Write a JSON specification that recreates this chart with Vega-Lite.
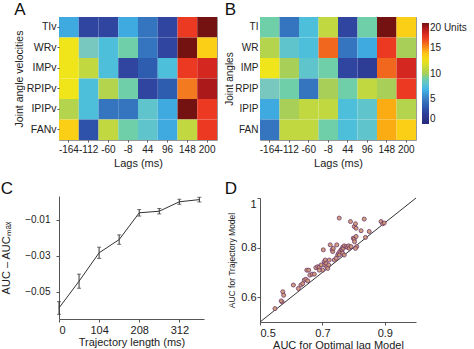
{
"$schema": "https://vega.github.io/schema/vega-lite/v6.json",
"padding": {"left": 0, "top": 0, "right": 0, "bottom": 0},
"config": {
  "font": "Liberation Sans",
  "view": {"stroke": null},
  "axis": {"labelFont": "Liberation Sans", "titleFont": "Liberation Sans", "labelFontSize": 11, "titleFontSize": 11, "titleFontWeight": "normal", "labelColor": "#222", "titleColor": "#222", "domainColor": "#555", "tickColor": "#555", "grid": false, "tickSize": 3, "labelPadding": 2},
  "title": {"fontSize": 17, "fontWeight": "normal", "anchor": "start", "frame": "bounds", "color": "#111", "offset": -2, "font": "Liberation Sans"},
  "legend": {"labelFont": "Liberation Sans"}
},
"datasets": {
  "hA": [
    {"j":"TIv","l":-164,"v":6.5},{"j":"TIv","l":-112,"v":2.5},{"j":"TIv","l":-60,"v":2.5},{"j":"TIv","l":-8,"v":6.5},{"j":"TIv","l":44,"v":4.5},{"j":"TIv","l":96,"v":2.5},{"j":"TIv","l":148,"v":17},{"j":"TIv","l":200,"v":20},
    {"j":"WRv","l":-164,"v":12.5},{"j":"WRv","l":-112,"v":8.5},{"j":"WRv","l":-60,"v":7.5},{"j":"WRv","l":-8,"v":9},{"j":"WRv","l":44,"v":4.5},{"j":"WRv","l":96,"v":2.5},{"j":"WRv","l":148,"v":20},{"j":"WRv","l":200,"v":13.5},
    {"j":"IMPv","l":-164,"v":12.5},{"j":"IMPv","l":-112,"v":11},{"j":"IMPv","l":-60,"v":7.5},{"j":"IMPv","l":-8,"v":2.5},{"j":"IMPv","l":44,"v":3.5},{"j":"IMPv","l":96,"v":7.5},{"j":"IMPv","l":148,"v":17},{"j":"IMPv","l":200,"v":18},
    {"j":"RPIPv","l":-164,"v":12.5},{"j":"RPIPv","l":-112,"v":7.5},{"j":"RPIPv","l":-60,"v":10.5},{"j":"RPIPv","l":-8,"v":9},{"j":"RPIPv","l":44,"v":2.5},{"j":"RPIPv","l":96,"v":3.5},{"j":"RPIPv","l":148,"v":15.5},{"j":"RPIPv","l":200,"v":19},
    {"j":"IPIPv","l":-164,"v":10.5},{"j":"IPIPv","l":-112,"v":7.5},{"j":"IPIPv","l":-60,"v":4.5},{"j":"IPIPv","l":-8,"v":4.5},{"j":"IPIPv","l":44,"v":8},{"j":"IPIPv","l":96,"v":6.5},{"j":"IPIPv","l":148,"v":20},{"j":"IPIPv","l":200,"v":17},
    {"j":"FANv","l":-164,"v":13.5},{"j":"FANv","l":-112,"v":3},{"j":"FANv","l":-60,"v":11},{"j":"FANv","l":-8,"v":9},{"j":"FANv","l":44,"v":8},{"j":"FANv","l":96,"v":6.5},{"j":"FANv","l":148,"v":11},{"j":"FANv","l":200,"v":17}
  ],
  "hB": [
    {"j":"TI","l":-164,"v":9},{"j":"TI","l":-112,"v":4.5},{"j":"TI","l":-60,"v":7.5},{"j":"TI","l":-8,"v":11},{"j":"TI","l":44,"v":2.5},{"j":"TI","l":96,"v":9},{"j":"TI","l":148,"v":20},{"j":"TI","l":200,"v":13.5},
    {"j":"WR","l":-164,"v":10.5},{"j":"WR","l":-112,"v":8},{"j":"WR","l":-60,"v":7.5},{"j":"WR","l":-8,"v":16},{"j":"WR","l":44,"v":4.5},{"j":"WR","l":96,"v":6.5},{"j":"WR","l":148,"v":17},{"j":"WR","l":200,"v":10},
    {"j":"IMP","l":-164,"v":12.5},{"j":"IMP","l":-112,"v":10},{"j":"IMP","l":-60,"v":8},{"j":"IMP","l":-8,"v":9},{"j":"IMP","l":44,"v":2.5},{"j":"IMP","l":96,"v":1.8},{"j":"IMP","l":148,"v":16},{"j":"IMP","l":200,"v":18},
    {"j":"RPIP","l":-164,"v":8.5},{"j":"RPIP","l":-112,"v":9},{"j":"RPIP","l":-60,"v":4.5},{"j":"RPIP","l":-8,"v":10},{"j":"RPIP","l":44,"v":9},{"j":"RPIP","l":96,"v":11},{"j":"RPIP","l":148,"v":10},{"j":"RPIP","l":200,"v":17},
    {"j":"IPIP","l":-164,"v":6.5},{"j":"IPIP","l":-112,"v":10},{"j":"IPIP","l":-60,"v":11},{"j":"IPIP","l":-8,"v":11},{"j":"IPIP","l":44,"v":7.5},{"j":"IPIP","l":96,"v":8},{"j":"IPIP","l":148,"v":14.5},{"j":"IPIP","l":200,"v":10.5},
    {"j":"FAN","l":-164,"v":4.5},{"j":"FAN","l":-112,"v":11},{"j":"FAN","l":-60,"v":11},{"j":"FAN","l":-8,"v":9},{"j":"FAN","l":44,"v":7.5},{"j":"FAN","l":96,"v":8},{"j":"FAN","l":148,"v":14.5},{"j":"FAN","l":200,"v":13.5}
  ],
  "traj": [
    {"len":0,"d":-0.0589,"lo":-0.0624,"hi":-0.0554},
    {"len":52,"d":-0.0441,"lo":-0.048,"hi":-0.0402},
    {"len":104,"d":-0.0284,"lo":-0.0315,"hi":-0.0253},
    {"len":156,"d":-0.0211,"lo":-0.0237,"hi":-0.0185},
    {"len":208,"d":-0.0063,"lo":-0.0081,"hi":-0.0045},
    {"len":260,"d":-0.0054,"lo":-0.0069,"hi":-0.0039},
    {"len":312,"d":-0.0002,"lo":-0.0016,"hi":0.0012},
    {"len":364,"d":0.001,"lo":-0.0003,"hi":0.0023}
  ],
  "auc": [
    {"opt":0.548,"trj":0.554},{"opt":0.571,"trj":0.581},{"opt":0.568,"trj":0.585},{"opt":0.573,"trj":0.622},{"opt":0.576,"trj":0.608},
    {"opt":0.607,"trj":0.649},{"opt":0.623,"trj":0.635},{"opt":0.631,"trj":0.649},{"opt":0.637,"trj":0.655},{"opt":0.642,"trj":0.669},
    {"opt":0.647,"trj":0.672},{"opt":0.650,"trj":0.709},{"opt":0.656,"trj":0.709},{"opt":0.653,"trj":0.666},{"opt":0.660,"trj":0.689},
    {"opt":0.667,"trj":0.693},{"opt":0.674,"trj":0.693},{"opt":0.679,"trj":0.719},{"opt":0.685,"trj":0.723},{"opt":0.690,"trj":0.720},
    {"opt":0.703,"trj":0.791},{"opt":0.706,"trj":0.743},{"opt":0.706,"trj":0.730},{"opt":0.709,"trj":0.750},{"opt":0.712,"trj":0.736},
    {"opt":0.714,"trj":0.723},{"opt":0.717,"trj":0.716},{"opt":0.720,"trj":0.730},{"opt":0.722,"trj":0.750},{"opt":0.725,"trj":0.811},
    {"opt":0.731,"trj":0.791},{"opt":0.733,"trj":0.784},{"opt":0.735,"trj":0.797},{"opt":0.738,"trj":0.750},{"opt":0.744,"trj":0.757},
    {"opt":0.746,"trj":0.811},{"opt":0.749,"trj":0.770},{"opt":0.752,"trj":0.777},{"opt":0.756,"trj":0.784},{"opt":0.760,"trj":0.791},
    {"opt":0.763,"trj":0.793},{"opt":0.765,"trj":0.801},{"opt":0.767,"trj":0.797},{"opt":0.770,"trj":0.807},{"opt":0.776,"trj":0.804},
    {"opt":0.781,"trj":0.801},{"opt":0.784,"trj":0.807},{"opt":0.754,"trj":0.919},{"opt":0.765,"trj":0.777},{"opt":0.786,"trj":0.797},
    {"opt":0.790,"trj":0.905},{"opt":0.799,"trj":0.838},{"opt":0.802,"trj":0.834},{"opt":0.803,"trj":0.824},{"opt":0.802,"trj":0.885},
    {"opt":0.806,"trj":0.896},{"opt":0.808,"trj":0.878},{"opt":0.810,"trj":0.804},{"opt":0.808,"trj":0.845},{"opt":0.824,"trj":0.868},
    {"opt":0.834,"trj":0.915},{"opt":0.838,"trj":0.841},{"opt":0.850,"trj":0.865},{"opt":0.888,"trj":0.905},{"opt":0.893,"trj":0.896},
    {"opt":0.898,"trj":0.899},{"opt":0.806,"trj":0.797},{"opt":0.792,"trj":0.804},{"opt":0.770,"trj":0.770},{"opt":0.701,"trj":0.709},
    {"opt":0.690,"trj":0.709},{"opt":0.696,"trj":0.730},{"opt":0.754,"trj":0.770}
  ]
},
"resolve": {"scale": {"color": "independent"}},
"columns": 2,
"align": "none",
"spacing": {"row": 11, "column": 6},
"concat": [
  {
    "title": {"text": "A"},
    "width": 158, "height": 123,
    "view": {"stroke": "#999"},
    "data": {"name": "hA"},
    "mark": {"type": "rect"},
    "encoding": {
      "x": {"field": "l", "type": "ordinal", "axis": {"title": "Lags (ms)", "labelAngle": 0, "labelFontSize": 10, "titleFontSize": 11, "domain": false, "tickSize": 2, "labelPadding": 2, "titlePadding": 3}},
      "y": {"field": "j", "type": "ordinal", "sort": ["TIv","WRv","IMPv","RPIPv","IPIPv","FANv"], "axis": {"title": "Joint angle velocities", "domain": false, "labelFontSize": 10.5, "titleFontSize": 10.5, "tickSize": 2, "labelPadding": 1, "titlePadding": 2}},
      "color": {"field": "v", "type": "quantitative", "legend": null,
        "scale": {"domain": [0, 2.5, 5, 7, 8.5, 10, 11.5, 12.5, 14, 15.5, 17, 18.5, 20], "range": ["#262a7a","#2f45a0","#3b80c4","#45b8e8","#78c8c0","#a8cf58","#d0dc30","#f0e41a","#fdc418","#f47a20","#ec3a22","#c81c1e","#741212"]}}
    }
  },
  {
    "title": {"text": "B"},
    "width": 156, "height": 123,
    "view": {"stroke": "#999"},
    "data": {"name": "hB"},
    "mark": {"type": "rect"},
    "encoding": {
      "x": {"field": "l", "type": "ordinal", "axis": {"title": "Lags (ms)", "labelAngle": 0, "labelFontSize": 10, "titleFontSize": 11, "domain": false, "tickSize": 2, "labelPadding": 2, "titlePadding": 3}},
      "y": {"field": "j", "type": "ordinal", "sort": ["TI","WR","IMP","RPIP","IPIP","FAN"], "axis": {"title": "Joint angles", "domain": false, "labelFontSize": 10, "titleFontSize": 10, "tickSize": 0, "labelPadding": 2, "titlePadding": 0}},
      "color": {"field": "v", "type": "quantitative",
        "scale": {"domain": [0, 2.5, 5, 7, 8.5, 10, 11.5, 12.5, 14, 15.5, 17, 18.5, 20], "range": ["#262a7a","#2f45a0","#3b80c4","#45b8e8","#78c8c0","#a8cf58","#d0dc30","#f0e41a","#fdc418","#f47a20","#ec3a22","#c81c1e","#741212"]},
        "legend": {"title": " ", "titleFontSize": 5, "titlePadding": 1, "offset": 6, "gradientLength": 101, "gradientThickness": 7, "values": [0, 5, 10, 15, 20], "labelFontSize": 10, "labelColor": "#222", "labelExpr": "datum.value == 20 ? '20 Units' : datum.label", "labelOffset": 1}}
    }
  },
  {
    "title": {"text": "C"},
    "width": 145, "height": 123,
    "data": {"name": "traj"},
    "encoding": {
      "x": {"field": "len", "type": "quantitative", "scale": {"domain": [0, 376], "nice": false}, "axis": {"values": [0, 104, 208, 312], "title": "Trajectory length (ms)", "titlePadding": 1}}
    },
    "layer": [
      {"mark": {"type": "rule", "color": "#333", "strokeWidth": 1},
       "encoding": {"y": {"field": "lo", "type": "quantitative", "title": "AUC – AUCₘₐₓ", "scale": {"domain": [-0.065, 0.003], "nice": false, "zero": false}, "axis": {"values": [-0.05, -0.03, -0.01], "format": ".2f", "labelFontSize": 10, "labelPadding": 6, "titlePadding": 13}}, "y2": {"field": "hi"}}},
      {"mark": {"type": "tick", "color": "#333", "size": 4, "thickness": 1, "orient": "horizontal"},
       "encoding": {"y": {"field": "lo", "type": "quantitative", "title": "AUC – AUCₘₐₓ"}}},
      {"mark": {"type": "tick", "color": "#333", "size": 4, "thickness": 1, "orient": "horizontal"},
       "encoding": {"y": {"field": "hi", "type": "quantitative", "title": "AUC – AUCₘₐₓ"}}},
      {"mark": {"type": "line", "color": "#333", "strokeWidth": 1},
       "encoding": {"y": {"field": "d", "type": "quantitative", "title": "AUC – AUCₘₐₓ"}}}
    ]
  },
  {
    "title": {"text": "D", "dx": -3},
    "width": 156, "height": 124,
    "layer": [
      {"data": {"values": [{"opt": 0.5, "trj": 0.5}, {"opt": 1, "trj": 1}]},
       "mark": {"type": "line", "color": "#333", "strokeWidth": 1},
       "encoding": {
         "x": {"field": "opt", "type": "quantitative", "title": "AUC for Optimal lag Model", "scale": {"domain": [0.5, 1], "nice": false, "zero": false}, "axis": {"values": [0.5, 0.7, 0.9], "format": ".1~f", "titlePadding": 1}},
         "y": {"field": "trj", "type": "quantitative", "title": "AUC for Trajectory Model", "scale": {"domain": [0.5, 1], "nice": false, "zero": false}, "axis": {"values": [0.6, 0.8, 1], "format": ".1~f", "labelFlush": true, "titleFontSize": 8.5, "labelPadding": 1, "titlePadding": 4}}
       }},
      {"data": {"name": "auc"},
       "mark": {"type": "point", "filled": true, "fill": "#d09a70", "stroke": "#74406e", "strokeWidth": 1, "size": 16, "opacity": 0.9},
       "encoding": {
         "x": {"field": "opt", "type": "quantitative", "title": "AUC for Optimal lag Model"},
         "y": {"field": "trj", "type": "quantitative", "title": "AUC for Trajectory Model"}
       }}
    ]
  }
]
}
